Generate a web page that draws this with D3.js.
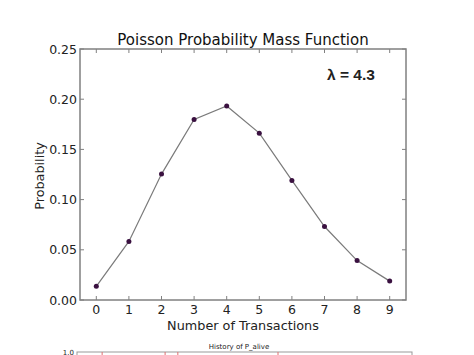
<!DOCTYPE html>
<html><head><meta charset="utf-8">
<script src="https://cdn.jsdelivr.net/npm/d3@7"></script>
<style>body{margin:0;background:#fff}svg{display:block}text{font-family:"DejaVu Sans",sans-serif}</style>
</head><body><svg id="c" width="474" height="355"></svg>
<script>
const counts = [0,1,2,3,4,5,6,7,8,9];
const probs = [0.0136,0.0583,0.1254,0.1798,0.1933,0.1662,0.1191,0.0732,0.0393,0.0188];
const yTicks = [0,0.05,0.10,0.15,0.20,0.25];
const lambdaLabel = "λ = 4.3";
const histTicks = [1.0];
const histLines = [0.075,0.263,0.301,0.60];

const svg = d3.select("#c");
const L=80,R=406,T=49,B=300;
const x = d3.scaleLinear().domain([-0.5,9.5]).range([L,R]);
const y = d3.scaleLinear().domain([0,0.25]).range([B,T]);
const frame="#808080";

const g = svg.append("g");
counts.forEach(c=>{
  g.append("line").attr("x1",x(c)).attr("x2",x(c)).attr("y1",B).attr("y2",B-4).attr("stroke",frame);
  g.append("line").attr("x1",x(c)).attr("x2",x(c)).attr("y1",T).attr("y2",T+4).attr("stroke",frame);
  g.append("text").attr("x",x(c)).attr("y",B+14).attr("text-anchor","middle").attr("font-size",12.5).attr("fill","#222").text(c);
});
yTicks.forEach(v=>{
  g.append("line").attr("x1",L).attr("x2",L+4).attr("y1",y(v)).attr("y2",y(v)).attr("stroke",frame);
  g.append("line").attr("x1",R).attr("x2",R-4).attr("y1",y(v)).attr("y2",y(v)).attr("stroke",frame);
  g.append("text").attr("x",L-3).attr("y",y(v)+4.5).attr("text-anchor","end").attr("font-size",12.5).attr("fill","#222").text(d3.format(".2f")(v));
});
svg.append("rect").attr("x",L).attr("y",T).attr("width",R-L).attr("height",B-T).attr("fill","none").attr("stroke",frame).attr("stroke-width",1.5);

const line = d3.line().x((d,i)=>x(counts[i])).y(d=>y(d));
svg.append("path").datum(probs).attr("d",line).attr("fill","none").attr("stroke","#7a7a7a").attr("stroke-width",1.2);
svg.selectAll("circle.p").data(probs).enter().append("circle").attr("cx",(d,i)=>x(counts[i])).attr("cy",d=>y(d)).attr("r",2.5).attr("fill","#3a1140");

svg.append("text").attr("x",243).attr("y",45).attr("text-anchor","middle").attr("font-size",15).attr("fill","#111").text("Poisson Probability Mass Function");
svg.append("text").attr("x",243).attr("y",330).attr("text-anchor","middle").attr("font-size",12.8).attr("fill","#222").text("Number of Transactions");
svg.append("text").attr("transform","translate(44,176) rotate(-90)").attr("text-anchor","middle").attr("font-size",12.8).attr("fill","#222").text("Probability");
svg.append("text").attr("x",351).attr("y",80).attr("text-anchor","middle").attr("font-size",15.5).attr("font-weight","bold").style("font-family","'Liberation Sans',Arial,sans-serif").attr("fill","#222").text(lambdaLabel);

const hx = d3.scaleLinear().domain([0,1]).range([77,412]);
svg.append("text").attr("x",239).attr("y",349).attr("text-anchor","middle").attr("font-size",7).attr("fill","#222").text("History of P_alive");
histTicks.forEach(v=>svg.append("text").attr("x",74).attr("y",355).attr("text-anchor","end").attr("font-size",7).attr("fill","#222").text(v.toFixed(1)));
svg.append("rect").attr("x",77).attr("y",352).attr("width",335).attr("height",20).attr("fill","none").attr("stroke","#999").attr("stroke-width",1);
histLines.forEach(v=>svg.append("line").attr("x1",hx(v)).attr("x2",hx(v)).attr("y1",352).attr("y2",355).attr("stroke","#e07070").attr("stroke-width",1));
</script></body></html>
